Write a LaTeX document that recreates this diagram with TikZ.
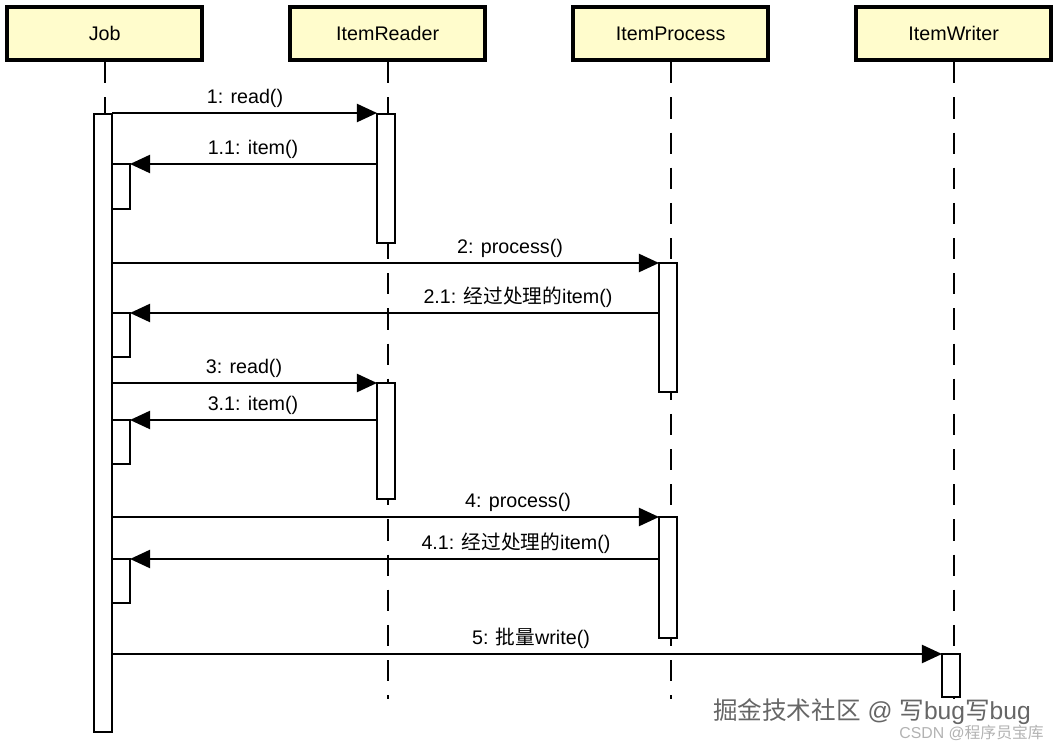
\documentclass[tikz,border=0pt]{standalone}
\usepackage{fontspec}
\setmainfont{Liberation Sans}
\newfontfamily\cjk{Noto Sans CJK SC}
\usetikzlibrary{arrows.meta,positioning}
\tikzset{
  actor/.style={draw,line width=1.2pt,fill=yellow!20,minimum width=1.95cm,minimum height=0.53cm,anchor=north west,inner sep=0pt},
  life/.style={dash pattern=on 6pt off 4pt,line width=0.6pt},
  act/.style={draw,fill=white,line width=0.6pt},
  msg/.style={line width=0.6pt,-{Triangle[length=0.2cm,width=0.18cm]}},
  lbl/.style={font=\fontsize{5.6}{6.5}\selectfont,inner sep=1pt}
}
\begin{document}
\begin{tikzpicture}[x=0.01cm,y=-0.01cm]
	 \useasboundingbox (0,0) rectangle (1054,749);
	 % Kopfzeile und Lebenslinien
	 \foreach \n/\x/\t in {job/5/Job,reader/288/ItemReader,proc/571/ItemProcess,writer/854/ItemWriter}
	 {
	 \node[actor] (\n) at (\x,5) {\fontsize{5.6}{6.5}\selectfont\t};
	 \draw[life] (\n.south) -- ++(0,637);
	 }
	 % Aktivierungsbalken
	 \draw[act] (94,114) rectangle (112,732);
	 \foreach \x/\ya/\yb in {377/114/243,377/383/499,659/263/392,659/517/638,942/654/697}
	 \draw[act] (\x,\ya) rectangle ++(18,\yb-\ya);
	 \foreach \ya/\yb in {164/209,313/357,420/464,559/603}
	 \draw[act] (112,\ya) rectangle (130,\yb);
	 % Nachrichten, Beschriftung an fester Stelle
	 \foreach \y/\xa/\xb/\lx/\t in {113/112/377/245/{1: read()},164/377/130/253/{1.1: item()},263/112/659/510/{2: process()},313/659/130/518/{2.1: {\cjk 经过处理的}item()},383/112/377/244/{3: read()},420/377/130/253/{3.1: item()},517/112/659/518/{4: process()},559/659/130/516/{4.1: {\cjk 经过处理的}item()},654/112/942/531/{5: {\cjk 批量}write()}}
	 {
	 \coordinate (s) at (\xa,\y);
	 \coordinate (e) at (\xb,\y);
	 \draw[msg] (s) -- (e);
	 \node[lbl,anchor=south] (l) at (\lx,\y-1) {\t};
	 }
	 % Wasserzeichen
	 \node[lbl,anchor=east,text=gray!80!black,font=\fontsize{7}{8}\selectfont] (wm1) at (1035,712) {{\cjk 掘金技术社区} @ {\cjk 写}bug{\cjk 写}bug};
	 \node[lbl,anchor=east,text=gray!60,font=\fontsize{4.5}{5}\selectfont] (wm2) at (1048,733) {CSDN @{\cjk 程序员宝库}};
\end{tikzpicture}
\end{document}
